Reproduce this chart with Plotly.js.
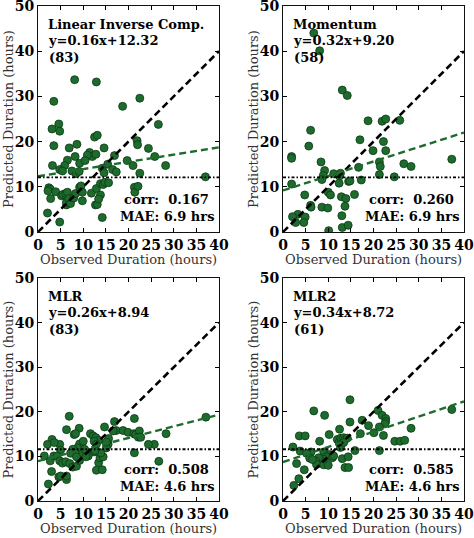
<!DOCTYPE html>
<html>
<head>
<meta charset="utf-8">
<script src="https://cdn.plot.ly/plotly-3.0.1.min.js"></script>
<style>html,body{margin:0;padding:0;background:#fff;}#chart{width:474px;height:538px;}</style>
</head>
<body>
<div id="chart"></div>
<script>
// ---- data ----
const panelNames = ["Linear Inverse Comp.", "Momentum", "MLR", "MLR2"];
const slopes = [0.16, 0.32, 0.26, 0.34];
const intercepts = [12.32, 9.20, 8.94, 8.72];
const counts = [83, 58, 83, 61];
const corrs = ["0.167", "0.260", "0.508", "0.585"];
const maes = ["6.9", "6.9", "4.6", "4.6"];
const meanObserved = [12.1, 12.1, 11.6, 11.6];
const xTicks = [0, 5, 10, 15, 20, 25, 30, 35, 40];
const yTicks = [0, 10, 20, 30, 40, 50];
const xRange = [0, 40];
const yRange = [0, 50];

const licObs = [8.1,12.9,3.5,22.5,18.7,3.1,4.6,4.8,26.6,3.5,6.9,8.6,12.5,13.1,14.6,11.4,12.0,12.8,10.9,8.2,6.5,5.9,3.2,9.2,10.4,16.9,19.7,21.9,22.0,24.4,25.8,28.2,21.0,22.5,4.8,5.4,7.5,8.4,9.1,15.4,14.2,14.6,16.5,17.3,2.4,2.7,2.2,3.9,2.8,2.1,4.8,5.2,5.5,6.1,6.5,6.3,6.3,6.8,7.2,7.9,8.3,9.2,9.5,9.8,9.8,11.8,12.7,13.1,12.9,13.8,13.8,14.4,14.8,15.6,13.4,14.2,21.3,21.4,22.1,37.0];
const licPred = [33.7,33.2,28.9,29.6,27.8,22.8,23.9,22.3,23.8,19.1,18.6,19.4,21.0,21.4,18.6,17.6,16.7,17.2,17.0,16.7,15.9,14.7,14.7,15.2,15.8,16.9,15.8,20.2,19.3,18.5,16.7,14.7,14.7,13.0,13.8,13.5,13.5,12.9,13.4,15.0,14.1,13.1,13.8,13.3,9.8,9.5,9.1,8.9,7.4,4.2,2.2,8.0,8.3,8.5,8.8,6.0,6.6,7.4,6.3,7.5,8.5,9.9,10.2,6.9,8.8,8.6,6.0,6.1,9.6,10.7,8.2,10.5,11.0,10.9,7.3,3.2,9.9,8.8,10.1,12.2];

const momObs = [6.8,8.1,13.1,14.2,6.1,18.8,21.9,22.7,25.8,5.7,1.9,1.9,17.0,19.9,22.2,22.7,8.4,21.3,21.5,26.7,28.3,37.3,16.7,9.2,8.9,11.2,12.7,12.5,21.3,24.6,8.6,12.4,14.5,14.8,17.3,1.9,4.8,10.0,10.5,12.9,13.9,15.8,8.6,9.9,13.7,6.1,6.2,3.3,2.1,2.8,4.9,4.6,13.0,13.1,14.4,10.1];
const momPred = [44.0,40.1,31.4,30.2,22.5,24.6,24.5,25.0,24.7,19.0,16.7,16.3,20.4,18.0,20.0,18.0,15.5,15.5,14.5,15.1,14.5,16.1,14.3,13.6,12.5,12.9,13.0,12.4,12.7,12.2,11.6,10.8,11.2,11.3,11.5,10.6,8.2,8.8,8.2,7.8,7.4,8.3,5.5,5.3,5.7,5.9,5.5,3.9,3.4,2.1,3.3,2.1,3.6,1.0,1.5,0.3];

const mlrObs = [6.9,37.1,21.3,16.9,6.3,9.1,14.7,17.3,16.6,18.8,19.9,21.2,21.6,22.4,22.2,22.7,28.3,3.1,2.1,4.8,3.6,8.0,8.3,11.6,12.2,12.8,13.4,12.4,12.9,15.5,15.1,9.2,10.0,8.7,7.7,10.7,11.1,9.4,8.2,7.2,5.0,1.4,2.7,3.5,4.2,4.8,5.4,6.1,7.0,7.7,8.5,9.2,8.5,10.6,3.0,4.6,5.0,6.3,6.3,2.3,12.9,14.2,13.4,13.7,14.4,13.9,12.4,12.6,21.3,25.7,24.4,26.7,15.6,15.1,10.3];
const mlrPred = [19.0,18.8,18.5,17.8,16.0,16.3,16.6,15.8,15.7,15.8,15.4,15.1,14.9,15.7,14.3,14.3,15.1,13.8,12.7,12.7,13.1,14.9,15.1,15.1,14.6,14.2,13.6,13.4,12.7,12.7,11.9,12.8,13.4,11.9,11.6,11.0,10.1,10.4,10.7,10.7,11.4,10.1,9.0,10.1,10.1,9.0,8.5,8.8,8.4,7.6,7.8,9.1,9.9,9.9,6.6,5.4,5.6,4.8,5.6,3.8,6.9,7.0,8.6,9.7,9.9,10.8,11.0,11.3,10.8,12.7,12.7,8.9,14.0,13.2,11.6];

const mlr2Obs = [14.8,6.8,9.2,21.0,21.9,22.7,22.7,22.5,17.5,18.9,14.8,21.3,28.3,37.3,17.1,20.1,12.5,10.2,3.6,4.9,2.2,8.1,12.0,12.4,12.8,13.4,13.7,14.2,12.8,12.7,13.4,15.9,22.2,24.7,25.9,26.9,21.3,3.8,6.2,5.2,9.0,10.3,9.7,10.9,8.9,8.4,7.9,7.2,7.4,5.9,6.5,3.0,9.0,10.0,11.2,13.1,14.4,13.7,14.5,4.7,3.5,2.4];
const mlr2Pred = [22.7,20.2,19.2,20.3,19.2,18.5,17.8,17.3,18.1,16.9,17.7,16.6,16.3,20.5,15.1,15.3,16.1,14.9,14.6,14.6,12.1,13.4,13.8,13.1,14.1,14.2,13.8,14.1,12.7,12.0,13.1,11.3,14.7,13.4,13.4,13.6,11.3,11.2,11.0,10.7,11.0,10.4,9.9,9.7,9.4,9.0,9.7,9.0,8.2,9.6,9.3,8.4,8.1,8.0,10.1,9.5,9.9,7.5,7.5,7.0,5.0,3.5];

const observed = [licObs, momObs, mlrObs, mlr2Obs];
const predicted = [licPred, momPred, mlrPred, mlr2Pred];

// ---- layout geometry (pixels of the 474x538 figure) ----
const W = 474, H = 538;
const colPx = [[38, 219], [283, 464]];
const rowPx = [[6, 232], [278, 501]];

const serif = "DejaVu Serif, Liberation Serif, serif";
const green = "#1e6b2e";

const traces = [];
const layout = {
  width: W, height: H,
  margin: {l: 0, r: 0, t: 0, b: 0},
  paper_bgcolor: "#fff", plot_bgcolor: "#fff",
  showlegend: false,
  annotations: []
};

for (let i = 0; i < 4; i++) {
  const col = i % 2, row = Math.floor(i / 2);
  const sfx = i === 0 ? "" : String(i + 1);
  const xa = "x" + sfx, ya = "y" + sfx;
  const xd = [colPx[col][0] / W, colPx[col][1] / W];
  const yd = [1 - rowPx[row][1] / H, 1 - rowPx[row][0] / H];
  const axCommon = {
    ticks: "inside", ticklen: 4, tickwidth: 1, tickcolor: "#000",
    mirror: "allticks", showline: true, linecolor: "#111", linewidth: 1,
    showgrid: false, zeroline: false, fixedrange: true,
    ticklabeloverflow: "allow",
    tickfont: {family: serif, size: 14, color: "#000", weight: "bold"}
  };
  layout["xaxis" + sfx] = Object.assign({}, axCommon, {
    domain: xd, range: xRange, tickmode: "array", tickvals: xTicks,
    ticktext: xTicks.map(String), anchor: ya
  });
  layout["yaxis" + sfx] = Object.assign({}, axCommon, {
    domain: yd, range: yRange, tickmode: "array", tickvals: yTicks,
    ticktext: yTicks.map(String), anchor: xa
  });

  traces.push({
    type: "scatter", mode: "markers", x: observed[i], y: predicted[i],
    xaxis: xa, yaxis: ya,
    marker: {size: 8, color: green, line: {color: "#0b3a14", width: 0.8}}
  });
  // 1:1 line
  traces.push({
    type: "scatter", mode: "lines", x: xRange, y: xRange,
    xaxis: xa, yaxis: ya,
    line: {color: "#000", width: 2.6, dash: "7px,4px"}
  });
  // regression fit
  traces.push({
    type: "scatter", mode: "lines", x: xRange,
    y: xRange.map(v => slopes[i] * v + intercepts[i]),
    xaxis: xa, yaxis: ya,
    line: {color: green, width: 2.4, dash: "7px,4px"}
  });
  // mean observed
  traces.push({
    type: "scatter", mode: "lines", x: xRange,
    y: [meanObserved[i], meanObserved[i]],
    xaxis: xa, yaxis: ya,
    line: {color: "#000", width: 1.8, dash: "3px,2px,1.5px,2px"}
  });

  const dx = xa + " domain", dy = ya + " domain";
  const tf = {family: serif, size: 13, color: "#000", weight: "bold"};
  const A = layout.annotations;
  A.push({xref: dx, yref: dy, x: 0.05, y: 0.917, xanchor: "left", yanchor: "middle",
           text: panelNames[i], showarrow: false, font: tf, borderpad: 0});
  A.push({xref: dx, yref: dy, x: 0.05, y: 0.808, xanchor: "left", yanchor: "middle",
           text: "y=" + slopes[i].toFixed(2) + "x+" + intercepts[i].toFixed(2) +
                 "<br>(" + counts[i] + ")",
           align: "left", showarrow: false, font: tf, borderpad: 0});
  A.push({xref: dx, yref: dy, x: 0.71, y: 0.142, xanchor: "center", yanchor: "middle",
           text: "corr:\u00a0\u00a0" + corrs[i], showarrow: false, font: tf, borderpad: 0});
  A.push({xref: dx, yref: dy, x: 0.71, y: 0.067, xanchor: "center", yanchor: "middle",
           text: "MAE: " + maes[i] + " hrs", showarrow: false, font: tf, borderpad: 0});

  const titleFont = {family: serif, size: 13, color: "#333"};
  // x-axis title
  A.push({xref: "paper", yref: "paper",
          x: (colPx[col][0] + colPx[col][1]) / 2 / W,
          y: 1 - (rowPx[row][1] + 27) / H,
          xanchor: "center", yanchor: "middle", showarrow: false, borderpad: 0,
          text: "Observed Duration (hours)", font: titleFont});
  // y-axis title
  A.push({xref: "paper", yref: "paper",
          x: (colPx[col][0] - 30) / W,
          y: 1 - (rowPx[row][0] + rowPx[row][1]) / 2 / H,
          xanchor: "center", yanchor: "middle", showarrow: false, textangle: -90, borderpad: 0,
          text: "Predicted Duration (hours)", font: titleFont});
}

Plotly.newPlot("chart", traces, layout, {staticPlot: true, displayModeBar: false});
</script>
</body>
</html>
